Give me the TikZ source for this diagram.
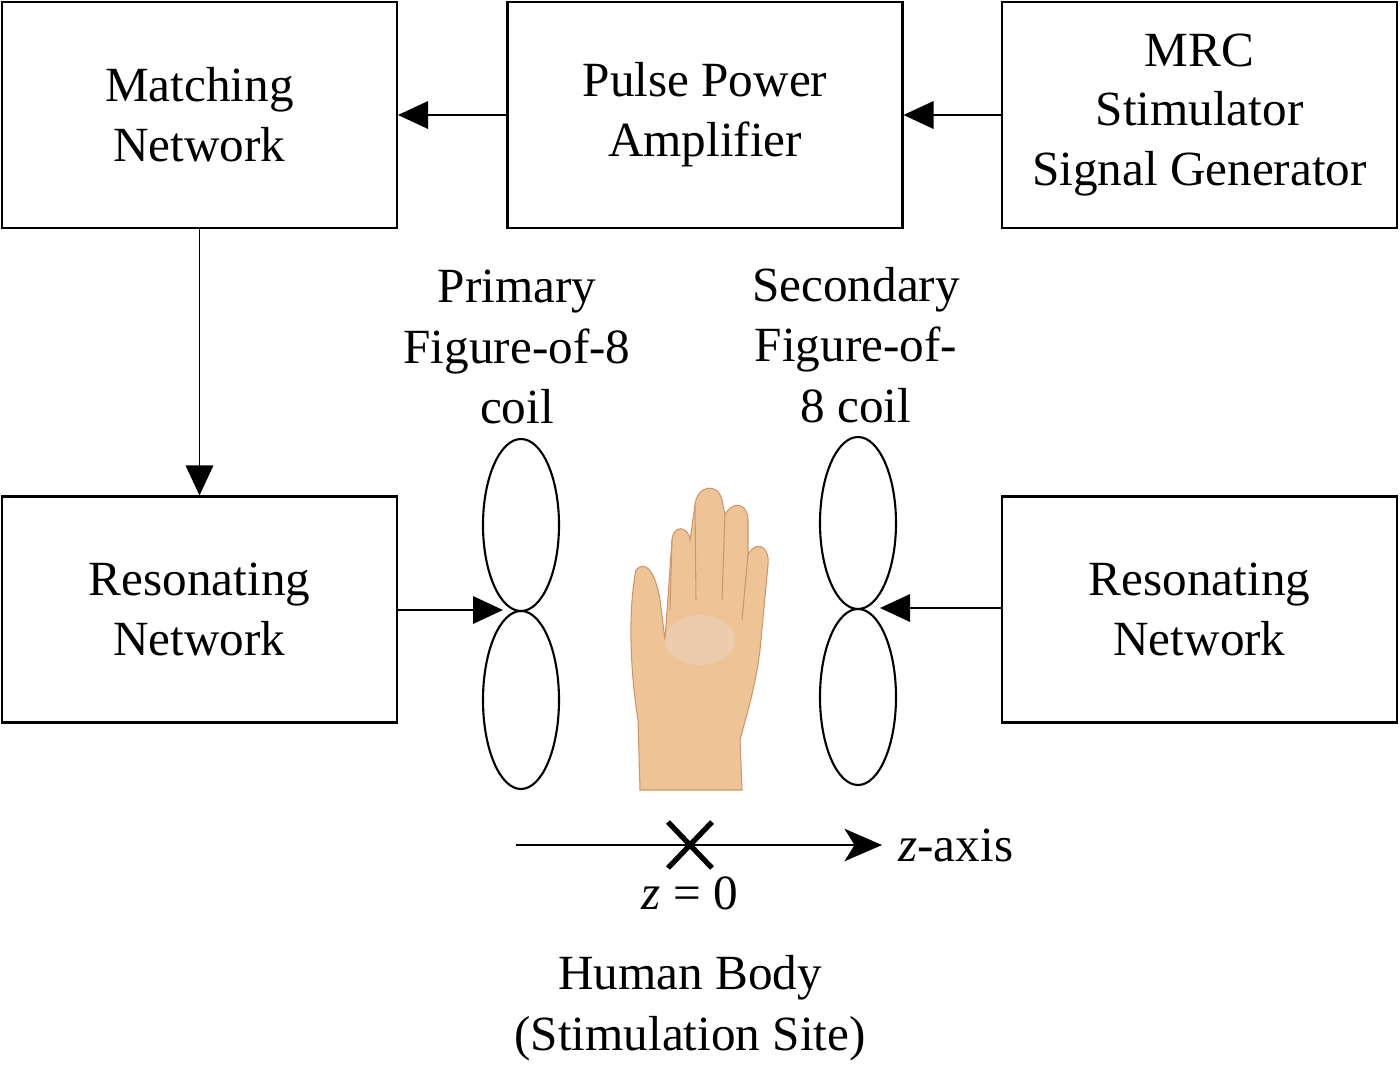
\documentclass[tikz,border=0pt]{standalone}
\usepackage{fontspec}
\setmainfont{Liberation Serif}
\usetikzlibrary{arrows.meta}
\definecolor{skin}{RGB}{238,196,150}
\definecolor{skind}{RGB}{205,150,105}
\begin{document}
\begin{tikzpicture}[x=0.02cm,y=-0.02cm,
  box/.style={draw,line width=1.2pt,minimum width=7.9cm,minimum height=4.52cm,align=center,font=\fontsize{28}{34}\selectfont,inner sep=0},
  lbl/.style={align=center,font=\fontsize{28}{34.5}\selectfont,inner sep=0},
  arr/.style={line width=1pt,-{Triangle[length=0.6cm,width=0.55cm]}},
  coil/.style={line width=1.2pt}]
\useasboundingbox (0,0) rectangle (1400,1065);
\node[box] (match) at (199.5,115) {Matching\\Network};
\node[box] (pulse) at (705,115) {Pulse Power\\Amplifier};
\node[box] (mrc) at (1199.5,115) {MRC\\Stimulator\\Signal Generator};
\node[box] (resL) at (199.5,609.5) {Resonating\\Network};
\node[box] (resR) at (1199.5,609.5) {Resonating\\Network};
\draw[arr] (pulse) -- (match);
\draw[arr] (mrc) -- (pulse);
\draw[arr] (match) -- (resL);
% coils
\draw[coil] (521,525) ellipse [x radius=38, y radius=86];
\draw[coil] (521,700) ellipse [x radius=38, y radius=89];
\draw[coil] (858,523) ellipse [x radius=38, y radius=86];
\draw[coil] (858,697) ellipse [x radius=38, y radius=88];
\coordinate (pj) at (503,610);
\coordinate (sj) at (880,608);
\draw[arr] (resL.east|-pj) -- (pj);
\draw[arr] (resR.west|-sj) -- (sj);
\node[lbl] (plab) at (517,347) {Primary\\Figure-of-8\\coil};
\node[lbl] (slab) at (856,345) {Secondary\\Figure-of-\\8 coil};
% hand
\path[fill=skin,draw=skind,line width=0.6pt]
 (640,790) -- (638,720) .. controls (630,670) and (628,610) .. (636,570)
 .. controls (645,560) and (655,570) .. (660,600)
 -- (665,640) -- (672,540) .. controls (673,525) and (688,525) .. (690,540)
 -- (695,505) .. controls (697,485) and (718,482) .. (722,500)
 -- (725,515) .. controls (732,500) and (748,503) .. (748,520)
 -- (748,555) .. controls (755,540) and (770,545) .. (768,565)
 -- (760,650) .. controls (755,690) and (745,720) .. (740,740)
 -- (742,790) -- cycle;
\draw[skind,line width=0.6pt] (672,540) -- (670,610) (695,505) -- (696,600) (725,515) -- (722,600) (748,555) -- (742,620);
\fill[skind!40,opacity=0.5] (700,640) ellipse [x radius=35, y radius=25];
% axis
\coordinate (za) at (516,845);
\coordinate (zb) at (882,845);
\draw[line width=1pt,-{Stealth[length=0.75cm,width=0.65cm,inset=0.2cm]}] (za) -- (zb);
\draw[line width=3pt] (668,822) -- (712,868) (712,822) -- (668,868);
\node[lbl,anchor=west] (zax) at (898,845) {\textit{z}-axis};
\node[lbl] (z0) at (690,893) {\textit{z} = 0};
\node[lbl] (hb) at (690,1008) {Human Body\\(Stimulation Site)};
\end{tikzpicture}
\end{document}
